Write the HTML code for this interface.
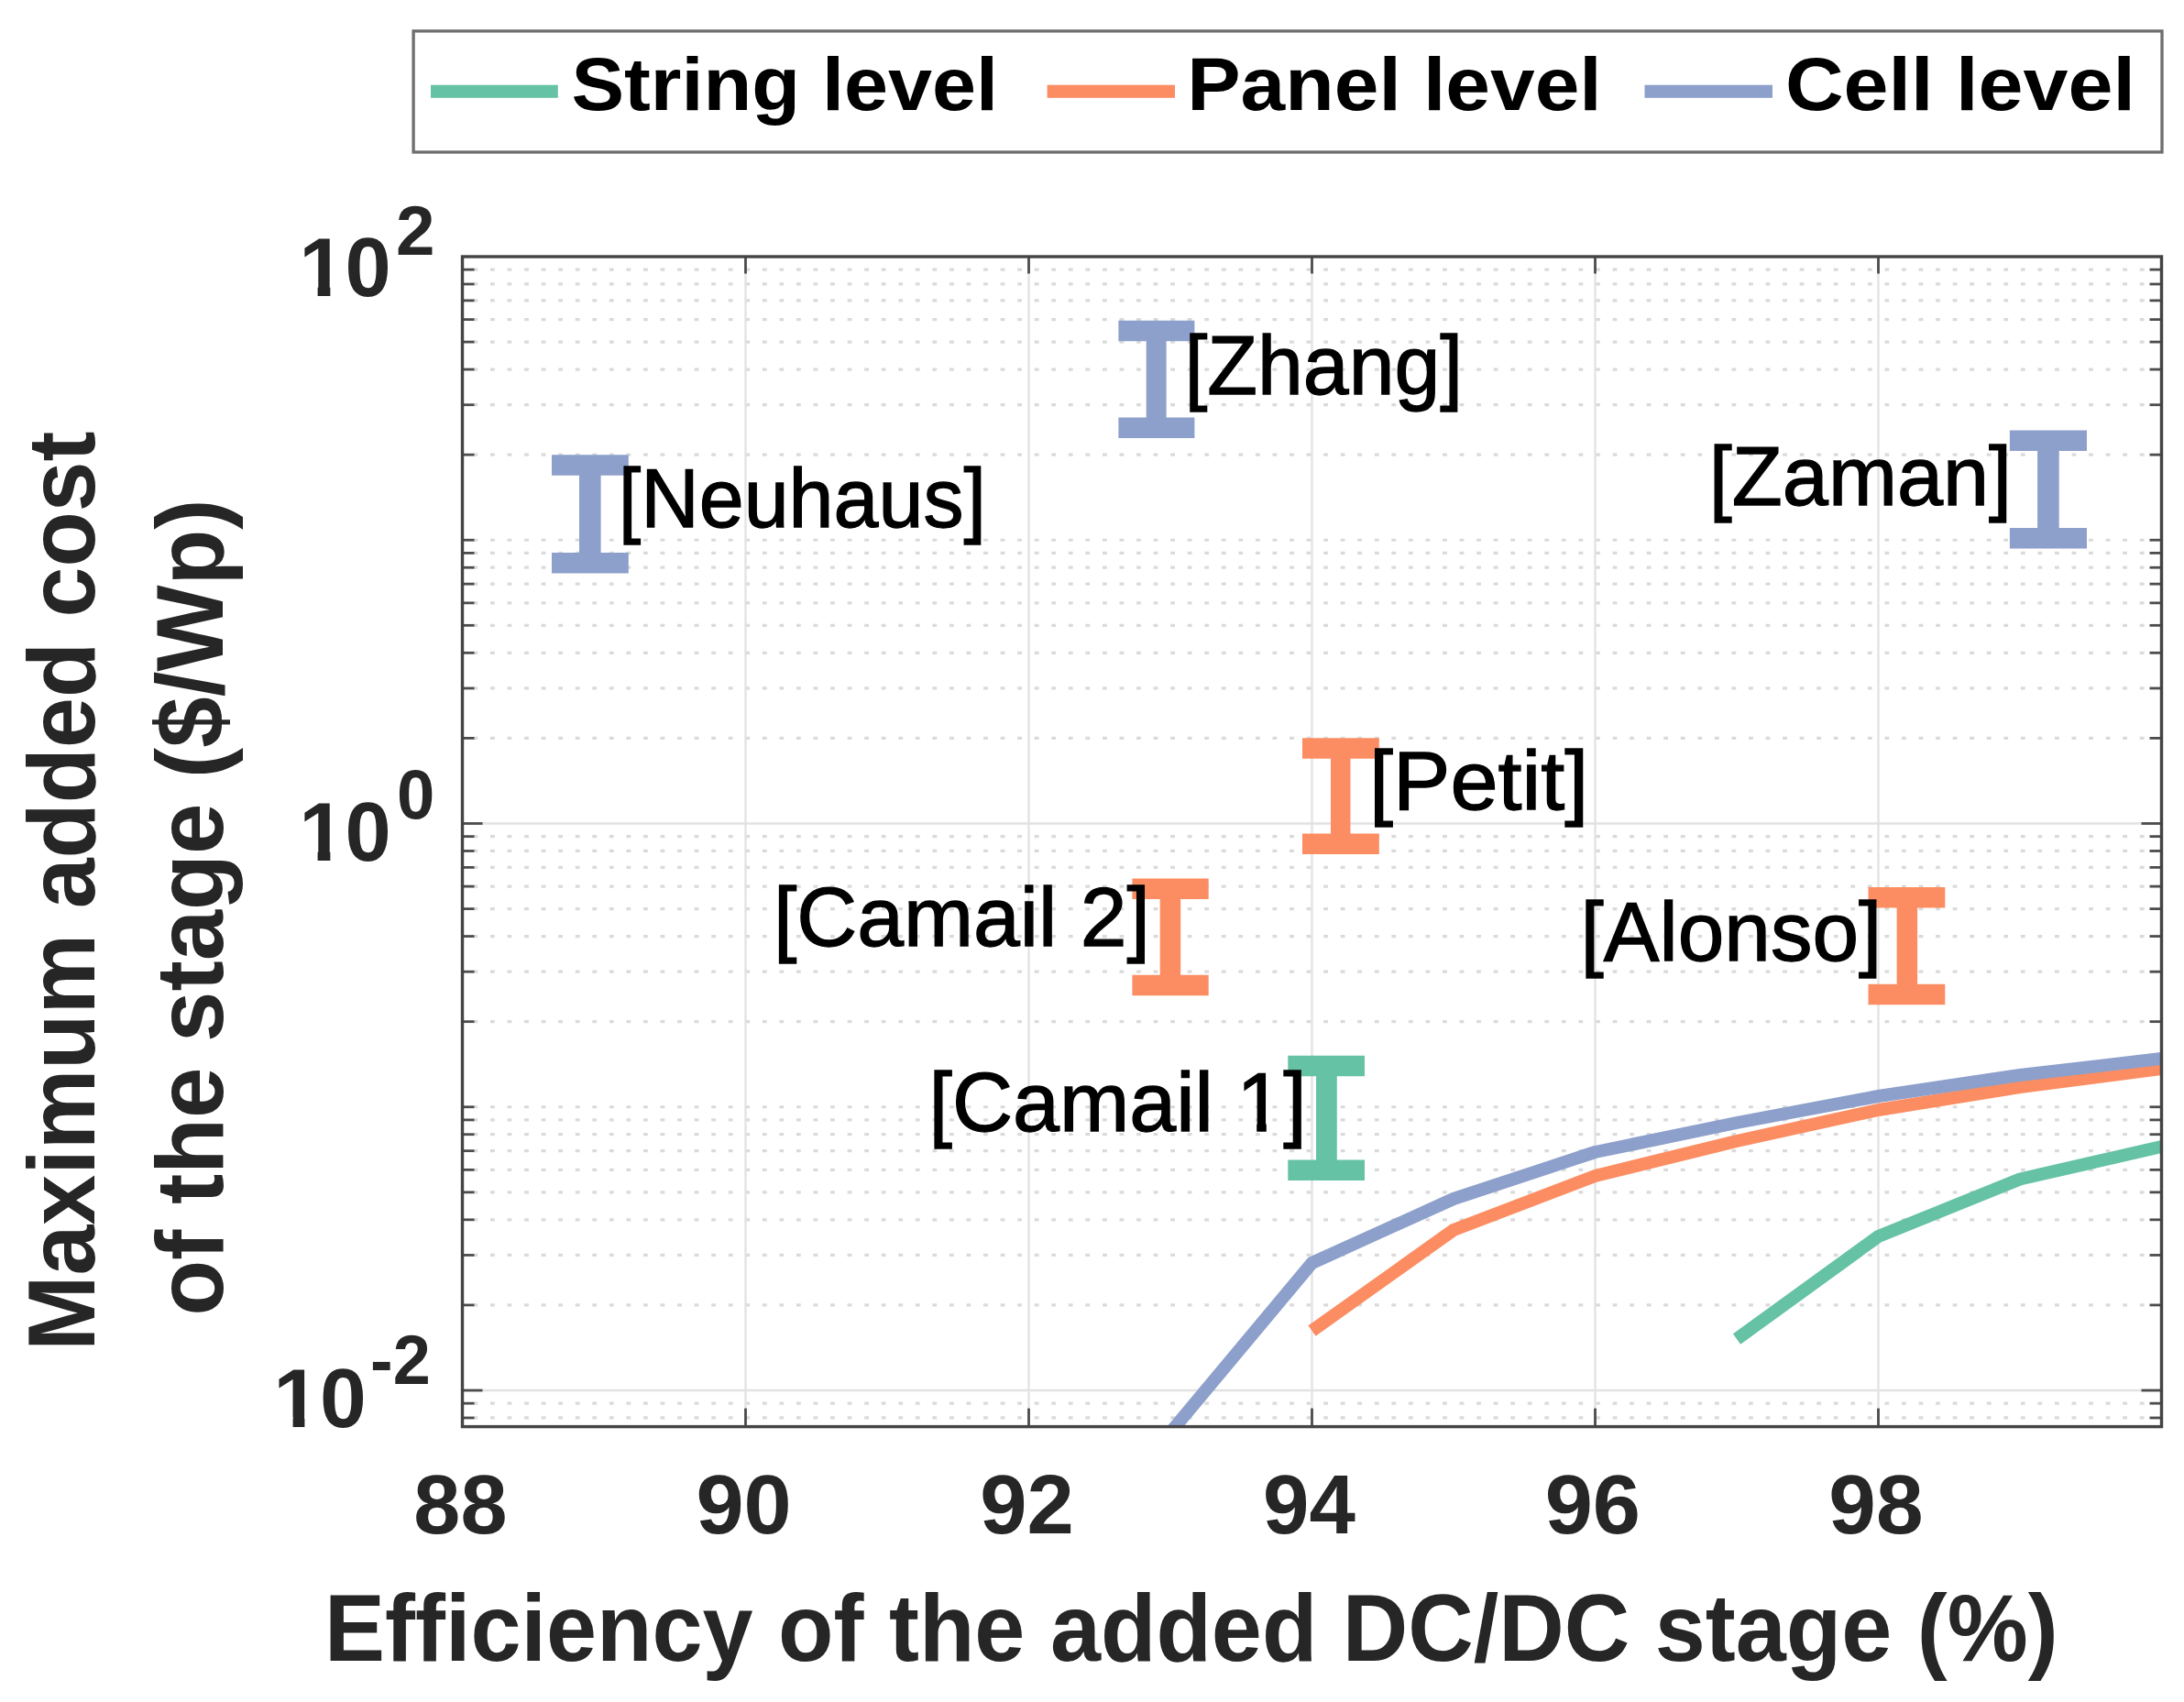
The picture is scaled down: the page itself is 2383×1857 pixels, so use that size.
<!DOCTYPE html>
<html lang="en"><head><meta charset="utf-8"><title>Maximum added cost of the stage</title>
<style>
html,body{margin:0;padding:0;background:#fff;}
body{width:2383px;height:1857px;overflow:hidden;}
svg{display:block;}
text{font-family:"Liberation Sans",Arial,Helvetica,sans-serif;white-space:pre;}
.ax{fill:#262626;font-weight:bold;}
.an{fill:#000;stroke:#000;stroke-width:1.3px;}
.lg{fill:#000;font-weight:bold;}
</style></head><body>
<svg width="2383" height="1857" viewBox="0 0 2383 1857">
<rect x="0" y="0" width="2383" height="1857" fill="#ffffff"/>

<defs><clipPath id="pc"><rect x="504.5" y="280.0" width="1854.0" height="1276.6"/></clipPath></defs>
<g stroke="#dadada" stroke-width="3.2" stroke-dasharray="4.8 13.754" fill="none">
<line x1="516.45" y1="1546.97" x2="2344.50" y2="1546.97"/>
<line x1="516.45" y1="1531.15" x2="2344.50" y2="1531.15"/>
<line x1="516.45" y1="1423.91" x2="2344.50" y2="1423.91"/>
<line x1="516.45" y1="1369.45" x2="2344.50" y2="1369.45"/>
<line x1="516.45" y1="1330.81" x2="2344.50" y2="1330.81"/>
<line x1="516.45" y1="1300.84" x2="2344.50" y2="1300.84"/>
<line x1="516.45" y1="1276.36" x2="2344.50" y2="1276.36"/>
<line x1="516.45" y1="1255.65" x2="2344.50" y2="1255.65"/>
<line x1="516.45" y1="1237.72" x2="2344.50" y2="1237.72"/>
<line x1="516.45" y1="1221.90" x2="2344.50" y2="1221.90"/>
<line x1="516.45" y1="1207.75" x2="2344.50" y2="1207.75"/>
<line x1="516.45" y1="1114.66" x2="2344.50" y2="1114.66"/>
<line x1="516.45" y1="1060.20" x2="2344.50" y2="1060.20"/>
<line x1="516.45" y1="1021.56" x2="2344.50" y2="1021.56"/>
<line x1="516.45" y1="991.59" x2="2344.50" y2="991.59"/>
<line x1="516.45" y1="967.11" x2="2344.50" y2="967.11"/>
<line x1="516.45" y1="946.40" x2="2344.50" y2="946.40"/>
<line x1="516.45" y1="928.47" x2="2344.50" y2="928.47"/>
<line x1="516.45" y1="912.65" x2="2344.50" y2="912.65"/>
<line x1="516.45" y1="805.41" x2="2344.50" y2="805.41"/>
<line x1="516.45" y1="750.95" x2="2344.50" y2="750.95"/>
<line x1="516.45" y1="712.31" x2="2344.50" y2="712.31"/>
<line x1="516.45" y1="682.34" x2="2344.50" y2="682.34"/>
<line x1="516.45" y1="657.86" x2="2344.50" y2="657.86"/>
<line x1="516.45" y1="637.15" x2="2344.50" y2="637.15"/>
<line x1="516.45" y1="619.22" x2="2344.50" y2="619.22"/>
<line x1="516.45" y1="603.40" x2="2344.50" y2="603.40"/>
<line x1="516.45" y1="589.25" x2="2344.50" y2="589.25"/>
<line x1="516.45" y1="496.16" x2="2344.50" y2="496.16"/>
<line x1="516.45" y1="441.70" x2="2344.50" y2="441.70"/>
<line x1="516.45" y1="403.06" x2="2344.50" y2="403.06"/>
<line x1="516.45" y1="373.09" x2="2344.50" y2="373.09"/>
<line x1="516.45" y1="348.61" x2="2344.50" y2="348.61"/>
<line x1="516.45" y1="327.90" x2="2344.50" y2="327.90"/>
<line x1="516.45" y1="309.97" x2="2344.50" y2="309.97"/>
<line x1="516.45" y1="294.15" x2="2344.50" y2="294.15"/>
</g>
<g stroke="#e2e2e2" stroke-width="2.3" fill="none">
<line x1="813.50" y1="280.0" x2="813.50" y2="1556.6"/>
<line x1="1122.50" y1="280.0" x2="1122.50" y2="1556.6"/>
<line x1="1431.50" y1="280.0" x2="1431.50" y2="1556.6"/>
<line x1="1740.50" y1="280.0" x2="1740.50" y2="1556.6"/>
<line x1="2049.50" y1="280.0" x2="2049.50" y2="1556.6"/>
<line x1="504.5" y1="898.50" x2="2358.5" y2="898.50"/>
<line x1="504.5" y1="1517.00" x2="2358.5" y2="1517.00"/>
</g>
<g stroke="#4c4c4c" stroke-width="2.8" fill="none">
<line x1="504.5" y1="1546.97" x2="517.5" y2="1546.97"/>
<line x1="2358.5" y1="1546.97" x2="2345.5" y2="1546.97"/>
<line x1="504.5" y1="1531.15" x2="517.5" y2="1531.15"/>
<line x1="2358.5" y1="1531.15" x2="2345.5" y2="1531.15"/>
<line x1="504.5" y1="1423.91" x2="517.5" y2="1423.91"/>
<line x1="2358.5" y1="1423.91" x2="2345.5" y2="1423.91"/>
<line x1="504.5" y1="1369.45" x2="517.5" y2="1369.45"/>
<line x1="2358.5" y1="1369.45" x2="2345.5" y2="1369.45"/>
<line x1="504.5" y1="1330.81" x2="517.5" y2="1330.81"/>
<line x1="2358.5" y1="1330.81" x2="2345.5" y2="1330.81"/>
<line x1="504.5" y1="1300.84" x2="517.5" y2="1300.84"/>
<line x1="2358.5" y1="1300.84" x2="2345.5" y2="1300.84"/>
<line x1="504.5" y1="1276.36" x2="517.5" y2="1276.36"/>
<line x1="2358.5" y1="1276.36" x2="2345.5" y2="1276.36"/>
<line x1="504.5" y1="1255.65" x2="517.5" y2="1255.65"/>
<line x1="2358.5" y1="1255.65" x2="2345.5" y2="1255.65"/>
<line x1="504.5" y1="1237.72" x2="517.5" y2="1237.72"/>
<line x1="2358.5" y1="1237.72" x2="2345.5" y2="1237.72"/>
<line x1="504.5" y1="1221.90" x2="517.5" y2="1221.90"/>
<line x1="2358.5" y1="1221.90" x2="2345.5" y2="1221.90"/>
<line x1="504.5" y1="1207.75" x2="517.5" y2="1207.75"/>
<line x1="2358.5" y1="1207.75" x2="2345.5" y2="1207.75"/>
<line x1="504.5" y1="1114.66" x2="517.5" y2="1114.66"/>
<line x1="2358.5" y1="1114.66" x2="2345.5" y2="1114.66"/>
<line x1="504.5" y1="1060.20" x2="517.5" y2="1060.20"/>
<line x1="2358.5" y1="1060.20" x2="2345.5" y2="1060.20"/>
<line x1="504.5" y1="1021.56" x2="517.5" y2="1021.56"/>
<line x1="2358.5" y1="1021.56" x2="2345.5" y2="1021.56"/>
<line x1="504.5" y1="991.59" x2="517.5" y2="991.59"/>
<line x1="2358.5" y1="991.59" x2="2345.5" y2="991.59"/>
<line x1="504.5" y1="967.11" x2="517.5" y2="967.11"/>
<line x1="2358.5" y1="967.11" x2="2345.5" y2="967.11"/>
<line x1="504.5" y1="946.40" x2="517.5" y2="946.40"/>
<line x1="2358.5" y1="946.40" x2="2345.5" y2="946.40"/>
<line x1="504.5" y1="928.47" x2="517.5" y2="928.47"/>
<line x1="2358.5" y1="928.47" x2="2345.5" y2="928.47"/>
<line x1="504.5" y1="912.65" x2="517.5" y2="912.65"/>
<line x1="2358.5" y1="912.65" x2="2345.5" y2="912.65"/>
<line x1="504.5" y1="805.41" x2="517.5" y2="805.41"/>
<line x1="2358.5" y1="805.41" x2="2345.5" y2="805.41"/>
<line x1="504.5" y1="750.95" x2="517.5" y2="750.95"/>
<line x1="2358.5" y1="750.95" x2="2345.5" y2="750.95"/>
<line x1="504.5" y1="712.31" x2="517.5" y2="712.31"/>
<line x1="2358.5" y1="712.31" x2="2345.5" y2="712.31"/>
<line x1="504.5" y1="682.34" x2="517.5" y2="682.34"/>
<line x1="2358.5" y1="682.34" x2="2345.5" y2="682.34"/>
<line x1="504.5" y1="657.86" x2="517.5" y2="657.86"/>
<line x1="2358.5" y1="657.86" x2="2345.5" y2="657.86"/>
<line x1="504.5" y1="637.15" x2="517.5" y2="637.15"/>
<line x1="2358.5" y1="637.15" x2="2345.5" y2="637.15"/>
<line x1="504.5" y1="619.22" x2="517.5" y2="619.22"/>
<line x1="2358.5" y1="619.22" x2="2345.5" y2="619.22"/>
<line x1="504.5" y1="603.40" x2="517.5" y2="603.40"/>
<line x1="2358.5" y1="603.40" x2="2345.5" y2="603.40"/>
<line x1="504.5" y1="589.25" x2="517.5" y2="589.25"/>
<line x1="2358.5" y1="589.25" x2="2345.5" y2="589.25"/>
<line x1="504.5" y1="496.16" x2="517.5" y2="496.16"/>
<line x1="2358.5" y1="496.16" x2="2345.5" y2="496.16"/>
<line x1="504.5" y1="441.70" x2="517.5" y2="441.70"/>
<line x1="2358.5" y1="441.70" x2="2345.5" y2="441.70"/>
<line x1="504.5" y1="403.06" x2="517.5" y2="403.06"/>
<line x1="2358.5" y1="403.06" x2="2345.5" y2="403.06"/>
<line x1="504.5" y1="373.09" x2="517.5" y2="373.09"/>
<line x1="2358.5" y1="373.09" x2="2345.5" y2="373.09"/>
<line x1="504.5" y1="348.61" x2="517.5" y2="348.61"/>
<line x1="2358.5" y1="348.61" x2="2345.5" y2="348.61"/>
<line x1="504.5" y1="327.90" x2="517.5" y2="327.90"/>
<line x1="2358.5" y1="327.90" x2="2345.5" y2="327.90"/>
<line x1="504.5" y1="309.97" x2="517.5" y2="309.97"/>
<line x1="2358.5" y1="309.97" x2="2345.5" y2="309.97"/>
<line x1="504.5" y1="294.15" x2="517.5" y2="294.15"/>
<line x1="2358.5" y1="294.15" x2="2345.5" y2="294.15"/>
<line x1="504.5" y1="898.50" x2="526.5" y2="898.50"/>
<line x1="2358.5" y1="898.50" x2="2336.5" y2="898.50"/>
<line x1="504.5" y1="1517.00" x2="526.5" y2="1517.00"/>
<line x1="2358.5" y1="1517.00" x2="2336.5" y2="1517.00"/>
<line x1="813.50" y1="1556.6" x2="813.50" y2="1536.6"/>
<line x1="813.50" y1="280.0" x2="813.50" y2="298.5"/>
<line x1="1122.50" y1="1556.6" x2="1122.50" y2="1536.6"/>
<line x1="1122.50" y1="280.0" x2="1122.50" y2="298.5"/>
<line x1="1431.50" y1="1556.6" x2="1431.50" y2="1536.6"/>
<line x1="1431.50" y1="280.0" x2="1431.50" y2="298.5"/>
<line x1="1740.50" y1="1556.6" x2="1740.50" y2="1536.6"/>
<line x1="1740.50" y1="280.0" x2="1740.50" y2="298.5"/>
<line x1="2049.50" y1="1556.6" x2="2049.50" y2="1536.6"/>
<line x1="2049.50" y1="280.0" x2="2049.50" y2="298.5"/>
</g>
<path fill="#8DA0CB" d="M602 496.3H685.8V518.8H655.6V602.9H685.8V625.4H602V602.9H632V518.8H602Z"/>
<path fill="#8DA0CB" d="M1220.4 349.8H1303.4V372.3H1272.6V455.5H1303.4V478H1220.4V455.5H1250.7V372.3H1220.4Z"/>
<path fill="#8DA0CB" d="M2192.9 469.5H2277V492.0H2246.7V576.1H2277V598.6H2192.9V576.1H2223.1V492.0H2192.9Z"/>
<path fill="#FC8D62" d="M1421 805.2H1504.8V827.7H1473.5V909.5H1504.8V932H1421V909.5H1452V827.7H1421Z"/>
<path fill="#FC8D62" d="M2038.5 967.9H2122.3V990.4H2092.1V1073.7H2122.3V1096.2H2038.5V1073.7H2069.6V990.4H2038.5Z"/>
<path fill="#FC8D62" d="M1235.4 958.5H1318.7V981.0H1288.2V1063.7H1318.7V1086.2H1235.4V1063.7H1265.7V981.0H1235.4Z"/>
<path fill="#66C2A5" d="M1405.3 1151.8H1489V1174.3H1458.8V1265.5H1489V1288H1405.3V1265.5H1436V1174.3H1405.3Z"/>
<g clip-path="url(#pc)">
<polyline points="1895.0,1461.0 2049.5,1349.0 2204.0,1286.5 2358.5,1251.0" fill="none" stroke="#66C2A5" stroke-width="14" stroke-linejoin="round" stroke-linecap="butt"/>
<polyline points="1431.5,1452.0 1586.0,1342.0 1740.5,1283.0 1895.0,1245.0 2049.5,1211.0 2204.0,1186.0 2358.5,1166.0" fill="none" stroke="#FC8D62" stroke-width="14" stroke-linejoin="round" stroke-linecap="butt"/>
<polyline points="1277.0,1563.0 1431.5,1378.0 1586.0,1308.0 1740.5,1257.0 1895.0,1225.0 2049.5,1196.0 2204.0,1173.0 2358.5,1155.0" fill="none" stroke="#8DA0CB" stroke-width="14" stroke-linejoin="round" stroke-linecap="butt"/>
</g>
<rect x="504.5" y="280.0" width="1854.0" height="1276.6" fill="none" stroke="#444" stroke-width="3.4"/>
<text id="an0" class="an" font-size="90" x="674.73" y="575.20" textLength="401.13" lengthAdjust="spacingAndGlyphs">[Neuhaus]</text>
<text id="an1" class="an" font-size="90" x="1292.43" y="429.50" textLength="303.75" lengthAdjust="spacingAndGlyphs">[Zhang]</text>
<text id="an2" class="an" font-size="90" x="1864.80" y="551.30" textLength="330.33" lengthAdjust="spacingAndGlyphs">[Zaman]</text>
<text id="an3" class="an" font-size="90" x="1493.99" y="883.20" textLength="239.25" lengthAdjust="spacingAndGlyphs">[Petit]</text>
<text id="an4" class="an" font-size="90" x="1724.53" y="1047.60" textLength="328.84" lengthAdjust="spacingAndGlyphs">[Alonso]</text>
<text id="an5" class="an" font-size="90" x="843.92" y="1032.00" textLength="411.00" lengthAdjust="spacingAndGlyphs">[Camail 2]</text>
<text id="an6" class="an" font-size="90" x="1013.49" y="1234.20" textLength="412.15" lengthAdjust="spacingAndGlyphs">[Camail 1]</text>
<rect x="451.1" y="33.9" width="1907.9" height="132.1" fill="#fff" stroke="#6e6e6e" stroke-width="3.3"/>
<rect x="470" y="92.7" width="138.8" height="14.1" fill="#66C2A5"/>
<rect x="1142.6" y="92.7" width="139.4" height="14.1" fill="#FC8D62"/>
<rect x="1794.5" y="92.7" width="139.5" height="14.1" fill="#8DA0CB"/>
<text id="lg0" class="lg" font-size="82" x="623.46" y="119.60" textLength="465.61" lengthAdjust="spacingAndGlyphs">String level</text>
<text id="lg1" class="lg" font-size="82" x="1295.22" y="119.60" textLength="452.44" lengthAdjust="spacingAndGlyphs">Panel level</text>
<text id="lg2" class="lg" font-size="82" x="1947.95" y="119.60" textLength="382.06" lengthAdjust="spacingAndGlyphs">Cell level</text>
<text id="yt0" class="ax" font-size="90" x="326.18" y="322.80" textLength="100.44" lengthAdjust="spacingAndGlyphs">10</text>
<text id="yt1" class="ax" font-size="90" x="326.18" y="939.00" textLength="100.44" lengthAdjust="spacingAndGlyphs">10</text>
<text id="yt2" class="ax" font-size="90" x="298.32" y="1556.80" textLength="101.54" lengthAdjust="spacingAndGlyphs">10</text>
<text id="ys0" class="ax" font-size="76" x="431.98" y="278.00" textLength="42.52" lengthAdjust="spacingAndGlyphs">2</text>
<text id="ys1" class="ax" font-size="76" x="433.07" y="892.60" textLength="41.34" lengthAdjust="spacingAndGlyphs">0</text>
<text id="ys2" class="ax" font-size="76" x="404.10" y="1509.70" textLength="65.69" lengthAdjust="spacingAndGlyphs">-2</text>
<text id="xl" class="ax" font-size="103" x="354.06" y="1812.00" textLength="1891.56" lengthAdjust="spacingAndGlyphs">Efficiency of the added DC/DC stage (%)</text>
<text id="yl1" class="ax" font-size="103.5" transform="translate(103.30 1473.67) rotate(-90)" x="0" y="0" textLength="1003.10" lengthAdjust="spacingAndGlyphs">Maximum added cost</text>
<text id="yl2" class="ax" font-size="103.5" transform="translate(243.20 1435.85) rotate(-90)" x="0" y="0" textLength="891.39" lengthAdjust="spacingAndGlyphs">of the stage ($/Wp)</text>
<text id="xt0" class="ax" font-size="91" x="451.38" y="1673.40" textLength="102.09" lengthAdjust="spacingAndGlyphs">88</text>
<text id="xt1" class="ax" font-size="91" x="759.50" y="1673.40" textLength="104.25" lengthAdjust="spacingAndGlyphs">90</text>
<text id="xt2" class="ax" font-size="91" x="1069.16" y="1673.40" textLength="102.62" lengthAdjust="spacingAndGlyphs">92</text>
<text id="xt3" class="ax" font-size="91" x="1378.01" y="1673.40" textLength="100.82" lengthAdjust="spacingAndGlyphs">94</text>
<text id="xt4" class="ax" font-size="91" x="1685.69" y="1673.40" textLength="104.36" lengthAdjust="spacingAndGlyphs">96</text>
<text id="xt5" class="ax" font-size="91" x="1995.33" y="1673.40" textLength="103.17" lengthAdjust="spacingAndGlyphs">98</text>
<rect x="329.5" y="312.0" width="17.1" height="13.5" fill="#fff"/>
<rect x="360.4" y="312.0" width="16.1" height="13.5" fill="#fff"/>
<rect x="329.5" y="928.2" width="17.1" height="13.5" fill="#fff"/>
<rect x="360.4" y="928.2" width="16.1" height="13.5" fill="#fff"/>
<rect x="301.5" y="1546.0" width="18.1" height="13.5" fill="#fff"/>
<rect x="332.4" y="1546.0" width="16.1" height="13.5" fill="#fff"/>
<rect x="1353.5" y="1224.6" width="17.7" height="11.1" fill="#fff"/>
<rect x="1381.8" y="1224.6" width="16.7" height="11.1" fill="#fff"/>
</svg></body></html>
